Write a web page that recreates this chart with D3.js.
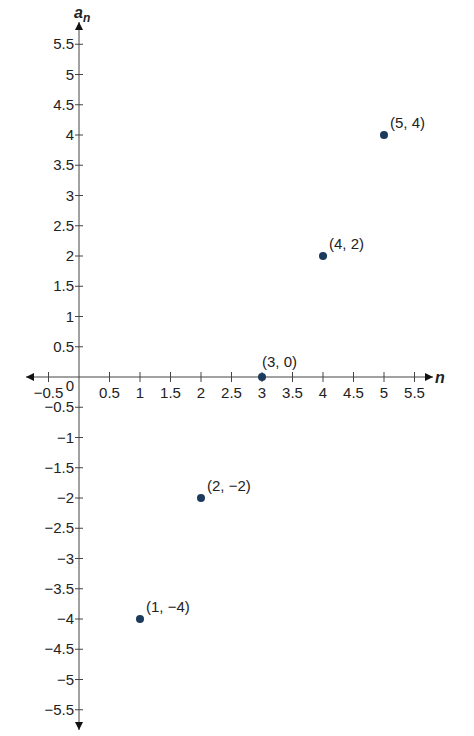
<!DOCTYPE html>
<html><head><meta charset="utf-8">
<script src="https://cdn.jsdelivr.net/npm/d3@7"></script>
<style>body{margin:0;background:#fff}text{font-family:"Liberation Sans",Arial,sans-serif;fill:#222}</style>
</head><body><svg id="c" width="474" height="736"></svg>
<script>
const xs=[1,2,3,4,5];
const ys=[-4,-2,0,2,4];
const labels=["(1, \u22124)","(2, \u22122)","(3, 0)","(4, 2)","(5, 4)"];
const xTicks=[-0.5,0.5,1,1.5,2,2.5,3,3.5,4,4.5,5,5.5];
const yTicks=[-5.5,-5,-4.5,-4,-3.5,-3,-2.5,-2,-1.5,-1,-0.5,0.5,1,1.5,2,2.5,3,3.5,4,4.5,5,5.5];
const svg=d3.select("#c");
const x=d3.scaleLinear().domain([0,1]).range([79,140]);
const y=d3.scaleLinear().domain([0,1]).range([377,316.5]);
const fmt=v=>String(v).replace("-","\u2212");
const col="#444";
svg.append("defs").append("marker").attr("id","ar").attr("viewBox","0 0 10 10").attr("refX",10).attr("refY",5)
 .attr("markerWidth",10).attr("markerHeight",8).attr("markerUnits","userSpaceOnUse").attr("orient","auto")
 .append("path").attr("d","M0,0L10,5L0,10Z").attr("fill","#111");
svg.append("line").attr("x1",79).attr("x2",79).attr("y1",377).attr("y2",22).attr("stroke",col).attr("marker-end","url(#ar)");
svg.append("line").attr("x1",79).attr("x2",79).attr("y1",377).attr("y2",730).attr("stroke",col).attr("marker-end","url(#ar)");
svg.append("line").attr("y1",377).attr("y2",377).attr("x1",79).attr("x2",433).attr("stroke",col).attr("marker-end","url(#ar)");
svg.append("line").attr("y1",377).attr("y2",377).attr("x1",79).attr("x2",26).attr("stroke",col).attr("marker-end","url(#ar)");
xTicks.forEach(t=>{
 svg.append("line").attr("x1",x(t)).attr("x2",x(t)).attr("y1",372).attr("y2",382).attr("stroke",col);
 svg.append("text").attr("x",x(t)).attr("y",398).attr("text-anchor","middle").attr("font-size",15).text(fmt(t));
});
yTicks.forEach(t=>{
 svg.append("line").attr("x1",75).attr("x2",83).attr("y1",y(t)).attr("y2",y(t)).attr("stroke",col);
 svg.append("text").attr("x",74).attr("y",y(t)+5).attr("text-anchor","end").attr("font-size",15).text(fmt(t));
});
svg.append("text").attr("x",70).attr("y",391).attr("text-anchor","middle").attr("font-size",15).text("0");
svg.append("text").attr("x",435).attr("y",383).attr("font-size",16).attr("font-weight","bold").attr("font-style","italic").text("n");
const an=svg.append("text").attr("x",74).attr("y",18).attr("font-size",16).attr("font-weight","bold");
an.append("tspan").attr("font-style","italic").text("a");
an.append("tspan").attr("font-style","italic").attr("font-size",12).attr("dy",4).text("n");
xs.forEach((v,i)=>{
 svg.append("circle").attr("cx",x(v)).attr("cy",y(ys[i])).attr("r",4).attr("fill","#1b3a5c");
 const lx = ys[i]===0 ? x(v) : x(v)+6;
 const ly = ys[i]===0 ? y(ys[i])-10 : y(ys[i])-7;
 svg.append("text").attr("x",lx).attr("y",ly).attr("text-anchor",ys[i]===0?"start":"start")
  .attr("dx",ys[i]===0?0:0).attr("font-size",15).text(labels[i]);
});
</script></body></html>
